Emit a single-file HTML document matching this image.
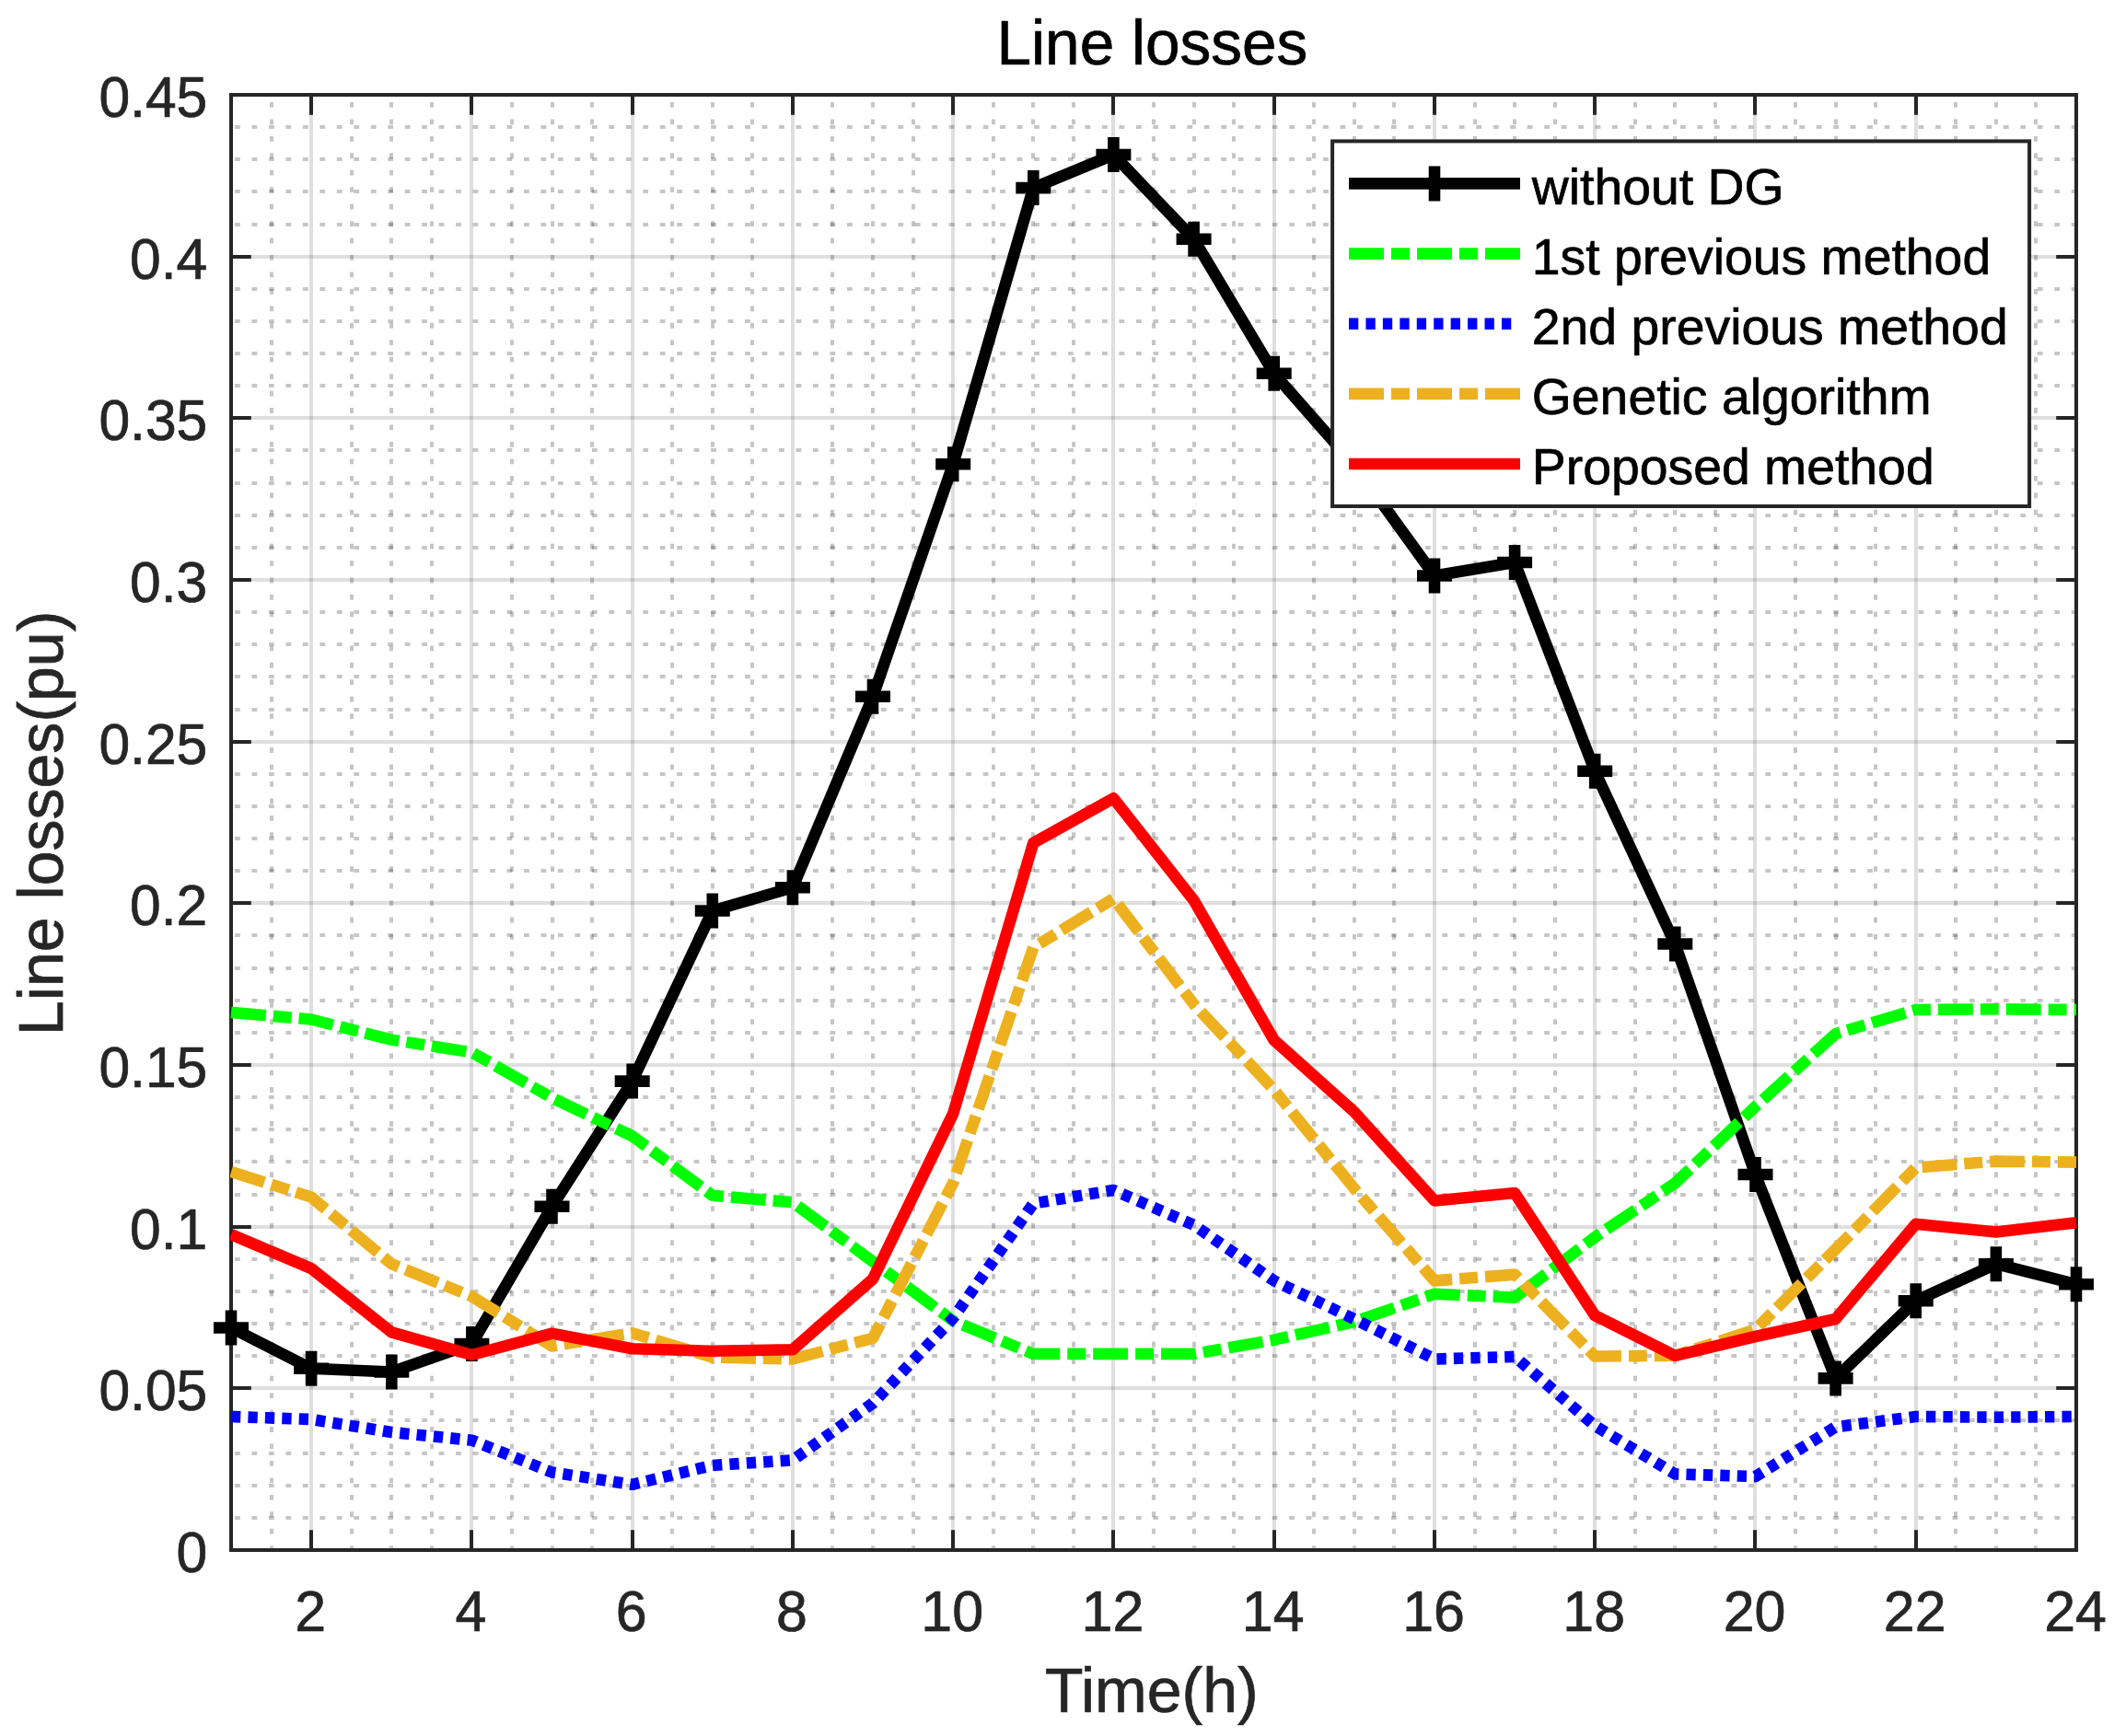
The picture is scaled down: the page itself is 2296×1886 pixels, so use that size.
<!DOCTYPE html>
<html lang="en"><head><meta charset="utf-8"><title>Line losses</title>
<style>html,body{margin:0;padding:0;background:#fff}svg{display:block}text{font-family:"Liberation Sans",Arial,Helvetica,sans-serif}</style></head><body>
<svg width="2296" height="1886" viewBox="0 0 2296 1886">
<rect width="2296" height="1886" fill="#fff"/>
<g stroke="#1a1a1a" stroke-opacity="0.25" stroke-width="4" fill="none" stroke-dasharray="5.80 12.67">
<line x1="295.0" x2="295.0" y1="103.0" y2="1684.0" stroke-dasharray="5.80 12.65" stroke-dashoffset="10.45"/>
<line x1="382.0" x2="382.0" y1="103.0" y2="1684.0" stroke-dasharray="5.80 12.65" stroke-dashoffset="10.45"/>
<line x1="425.0" x2="425.0" y1="103.0" y2="1684.0" stroke-dasharray="5.80 12.65" stroke-dashoffset="10.45"/>
<line x1="469.0" x2="469.0" y1="103.0" y2="1684.0" stroke-dasharray="5.80 12.65" stroke-dashoffset="10.45"/>
<line x1="556.0" x2="556.0" y1="103.0" y2="1684.0" stroke-dasharray="5.80 12.65" stroke-dashoffset="10.45"/>
<line x1="600.0" x2="600.0" y1="103.0" y2="1684.0" stroke-dasharray="5.80 12.65" stroke-dashoffset="10.45"/>
<line x1="643.0" x2="643.0" y1="103.0" y2="1684.0" stroke-dasharray="5.80 12.65" stroke-dashoffset="10.45"/>
<line x1="730.0" x2="730.0" y1="103.0" y2="1684.0" stroke-dasharray="5.80 12.65" stroke-dashoffset="10.45"/>
<line x1="774.0" x2="774.0" y1="103.0" y2="1684.0" stroke-dasharray="5.80 12.65" stroke-dashoffset="10.45"/>
<line x1="817.0" x2="817.0" y1="103.0" y2="1684.0" stroke-dasharray="5.80 12.65" stroke-dashoffset="10.45"/>
<line x1="904.0" x2="904.0" y1="103.0" y2="1684.0" stroke-dasharray="5.80 12.65" stroke-dashoffset="10.45"/>
<line x1="948.0" x2="948.0" y1="103.0" y2="1684.0" stroke-dasharray="5.80 12.65" stroke-dashoffset="10.45"/>
<line x1="992.0" x2="992.0" y1="103.0" y2="1684.0" stroke-dasharray="5.80 12.65" stroke-dashoffset="10.45"/>
<line x1="1079.0" x2="1079.0" y1="103.0" y2="1684.0" stroke-dasharray="5.80 12.65" stroke-dashoffset="10.45"/>
<line x1="1122.0" x2="1122.0" y1="103.0" y2="1684.0" stroke-dasharray="5.80 12.65" stroke-dashoffset="10.45"/>
<line x1="1166.0" x2="1166.0" y1="103.0" y2="1684.0" stroke-dasharray="5.80 12.65" stroke-dashoffset="10.45"/>
<line x1="1253.0" x2="1253.0" y1="103.0" y2="1684.0" stroke-dasharray="5.80 12.65" stroke-dashoffset="10.45"/>
<line x1="1297.0" x2="1297.0" y1="103.0" y2="1684.0" stroke-dasharray="5.80 12.65" stroke-dashoffset="10.45"/>
<line x1="1340.0" x2="1340.0" y1="103.0" y2="1684.0" stroke-dasharray="5.80 12.65" stroke-dashoffset="10.45"/>
<line x1="1427.0" x2="1427.0" y1="103.0" y2="1684.0" stroke-dasharray="5.80 12.65" stroke-dashoffset="10.45"/>
<line x1="1471.0" x2="1471.0" y1="103.0" y2="1684.0" stroke-dasharray="5.80 12.65" stroke-dashoffset="10.45"/>
<line x1="1514.0" x2="1514.0" y1="103.0" y2="1684.0" stroke-dasharray="5.80 12.65" stroke-dashoffset="10.45"/>
<line x1="1602.0" x2="1602.0" y1="103.0" y2="1684.0" stroke-dasharray="5.80 12.65" stroke-dashoffset="10.45"/>
<line x1="1645.0" x2="1645.0" y1="103.0" y2="1684.0" stroke-dasharray="5.80 12.65" stroke-dashoffset="10.45"/>
<line x1="1689.0" x2="1689.0" y1="103.0" y2="1684.0" stroke-dasharray="5.80 12.65" stroke-dashoffset="10.45"/>
<line x1="1776.0" x2="1776.0" y1="103.0" y2="1684.0" stroke-dasharray="5.80 12.65" stroke-dashoffset="10.45"/>
<line x1="1819.0" x2="1819.0" y1="103.0" y2="1684.0" stroke-dasharray="5.80 12.65" stroke-dashoffset="10.45"/>
<line x1="1863.0" x2="1863.0" y1="103.0" y2="1684.0" stroke-dasharray="5.80 12.65" stroke-dashoffset="10.45"/>
<line x1="1950.0" x2="1950.0" y1="103.0" y2="1684.0" stroke-dasharray="5.80 12.65" stroke-dashoffset="10.45"/>
<line x1="1994.0" x2="1994.0" y1="103.0" y2="1684.0" stroke-dasharray="5.80 12.65" stroke-dashoffset="10.45"/>
<line x1="2037.0" x2="2037.0" y1="103.0" y2="1684.0" stroke-dasharray="5.80 12.65" stroke-dashoffset="10.45"/>
<line x1="2124.0" x2="2124.0" y1="103.0" y2="1684.0" stroke-dasharray="5.80 12.65" stroke-dashoffset="10.45"/>
<line x1="2168.0" x2="2168.0" y1="103.0" y2="1684.0" stroke-dasharray="5.80 12.65" stroke-dashoffset="10.45"/>
<line x1="2211.0" x2="2211.0" y1="103.0" y2="1684.0" stroke-dasharray="5.80 12.65" stroke-dashoffset="10.45"/>
<line x1="251.0" x2="2255.0" y1="1649.0" y2="1649.0" stroke-dashoffset="14.47"/>
<line x1="251.0" x2="2255.0" y1="1614.0" y2="1614.0" stroke-dashoffset="14.47"/>
<line x1="251.0" x2="2255.0" y1="1579.0" y2="1579.0" stroke-dashoffset="14.47"/>
<line x1="251.0" x2="2255.0" y1="1543.0" y2="1543.0" stroke-dashoffset="14.47"/>
<line x1="251.0" x2="2255.0" y1="1473.0" y2="1473.0" stroke-dashoffset="14.47"/>
<line x1="251.0" x2="2255.0" y1="1438.0" y2="1438.0" stroke-dashoffset="14.47"/>
<line x1="251.0" x2="2255.0" y1="1403.0" y2="1403.0" stroke-dashoffset="14.47"/>
<line x1="251.0" x2="2255.0" y1="1368.0" y2="1368.0" stroke-dashoffset="14.47"/>
<line x1="251.0" x2="2255.0" y1="1298.0" y2="1298.0" stroke-dashoffset="14.47"/>
<line x1="251.0" x2="2255.0" y1="1262.0" y2="1262.0" stroke-dashoffset="14.47"/>
<line x1="251.0" x2="2255.0" y1="1227.0" y2="1227.0" stroke-dashoffset="14.47"/>
<line x1="251.0" x2="2255.0" y1="1192.0" y2="1192.0" stroke-dashoffset="14.47"/>
<line x1="251.0" x2="2255.0" y1="1122.0" y2="1122.0" stroke-dashoffset="14.47"/>
<line x1="251.0" x2="2255.0" y1="1087.0" y2="1087.0" stroke-dashoffset="14.47"/>
<line x1="251.0" x2="2255.0" y1="1052.0" y2="1052.0" stroke-dashoffset="14.47"/>
<line x1="251.0" x2="2255.0" y1="1016.0" y2="1016.0" stroke-dashoffset="14.47"/>
<line x1="251.0" x2="2255.0" y1="946.0" y2="946.0" stroke-dashoffset="14.47"/>
<line x1="251.0" x2="2255.0" y1="911.0" y2="911.0" stroke-dashoffset="14.47"/>
<line x1="251.0" x2="2255.0" y1="876.0" y2="876.0" stroke-dashoffset="14.47"/>
<line x1="251.0" x2="2255.0" y1="841.0" y2="841.0" stroke-dashoffset="14.47"/>
<line x1="251.0" x2="2255.0" y1="771.0" y2="771.0" stroke-dashoffset="14.47"/>
<line x1="251.0" x2="2255.0" y1="735.0" y2="735.0" stroke-dashoffset="14.47"/>
<line x1="251.0" x2="2255.0" y1="700.0" y2="700.0" stroke-dashoffset="14.47"/>
<line x1="251.0" x2="2255.0" y1="665.0" y2="665.0" stroke-dashoffset="14.47"/>
<line x1="251.0" x2="2255.0" y1="595.0" y2="595.0" stroke-dashoffset="14.47"/>
<line x1="251.0" x2="2255.0" y1="560.0" y2="560.0" stroke-dashoffset="14.47"/>
<line x1="251.0" x2="2255.0" y1="525.0" y2="525.0" stroke-dashoffset="14.47"/>
<line x1="251.0" x2="2255.0" y1="489.0" y2="489.0" stroke-dashoffset="14.47"/>
<line x1="251.0" x2="2255.0" y1="419.0" y2="419.0" stroke-dashoffset="14.47"/>
<line x1="251.0" x2="2255.0" y1="384.0" y2="384.0" stroke-dashoffset="14.47"/>
<line x1="251.0" x2="2255.0" y1="349.0" y2="349.0" stroke-dashoffset="14.47"/>
<line x1="251.0" x2="2255.0" y1="314.0" y2="314.0" stroke-dashoffset="14.47"/>
<line x1="251.0" x2="2255.0" y1="244.0" y2="244.0" stroke-dashoffset="14.47"/>
<line x1="251.0" x2="2255.0" y1="208.0" y2="208.0" stroke-dashoffset="14.47"/>
<line x1="251.0" x2="2255.0" y1="173.0" y2="173.0" stroke-dashoffset="14.47"/>
<line x1="251.0" x2="2255.0" y1="138.0" y2="138.0" stroke-dashoffset="14.47"/>
</g>
<g stroke="#262626" stroke-opacity="0.15" stroke-width="4" fill="none">
<line x1="338.0" x2="338.0" y1="103.0" y2="1684.0"/>
<line x1="512.0" x2="512.0" y1="103.0" y2="1684.0"/>
<line x1="687.0" x2="687.0" y1="103.0" y2="1684.0"/>
<line x1="861.0" x2="861.0" y1="103.0" y2="1684.0"/>
<line x1="1035.0" x2="1035.0" y1="103.0" y2="1684.0"/>
<line x1="1209.0" x2="1209.0" y1="103.0" y2="1684.0"/>
<line x1="1384.0" x2="1384.0" y1="103.0" y2="1684.0"/>
<line x1="1558.0" x2="1558.0" y1="103.0" y2="1684.0"/>
<line x1="1732.0" x2="1732.0" y1="103.0" y2="1684.0"/>
<line x1="1906.0" x2="1906.0" y1="103.0" y2="1684.0"/>
<line x1="2081.0" x2="2081.0" y1="103.0" y2="1684.0"/>
<line x1="251.0" x2="2255.0" y1="1508.0" y2="1508.0"/>
<line x1="251.0" x2="2255.0" y1="1333.0" y2="1333.0"/>
<line x1="251.0" x2="2255.0" y1="1157.0" y2="1157.0"/>
<line x1="251.0" x2="2255.0" y1="981.0" y2="981.0"/>
<line x1="251.0" x2="2255.0" y1="806.0" y2="806.0"/>
<line x1="251.0" x2="2255.0" y1="630.0" y2="630.0"/>
<line x1="251.0" x2="2255.0" y1="454.0" y2="454.0"/>
<line x1="251.0" x2="2255.0" y1="279.0" y2="279.0"/>
</g>
<g stroke="#262626" stroke-width="4" fill="none">
<rect x="251.0" y="103.0" width="2004.0" height="1581.0"/>
<line x1="338.0" x2="338.0" y1="1684.0" y2="1662.2"/>
<line x1="338.0" x2="338.0" y1="103.0" y2="124.8"/>
<line x1="512.0" x2="512.0" y1="1684.0" y2="1662.2"/>
<line x1="512.0" x2="512.0" y1="103.0" y2="124.8"/>
<line x1="687.0" x2="687.0" y1="1684.0" y2="1662.2"/>
<line x1="687.0" x2="687.0" y1="103.0" y2="124.8"/>
<line x1="861.0" x2="861.0" y1="1684.0" y2="1662.2"/>
<line x1="861.0" x2="861.0" y1="103.0" y2="124.8"/>
<line x1="1035.0" x2="1035.0" y1="1684.0" y2="1662.2"/>
<line x1="1035.0" x2="1035.0" y1="103.0" y2="124.8"/>
<line x1="1209.0" x2="1209.0" y1="1684.0" y2="1662.2"/>
<line x1="1209.0" x2="1209.0" y1="103.0" y2="124.8"/>
<line x1="1384.0" x2="1384.0" y1="1684.0" y2="1662.2"/>
<line x1="1384.0" x2="1384.0" y1="103.0" y2="124.8"/>
<line x1="1558.0" x2="1558.0" y1="1684.0" y2="1662.2"/>
<line x1="1558.0" x2="1558.0" y1="103.0" y2="124.8"/>
<line x1="1732.0" x2="1732.0" y1="1684.0" y2="1662.2"/>
<line x1="1732.0" x2="1732.0" y1="103.0" y2="124.8"/>
<line x1="1906.0" x2="1906.0" y1="1684.0" y2="1662.2"/>
<line x1="1906.0" x2="1906.0" y1="103.0" y2="124.8"/>
<line x1="2081.0" x2="2081.0" y1="1684.0" y2="1662.2"/>
<line x1="2081.0" x2="2081.0" y1="103.0" y2="124.8"/>
<line x1="251.0" x2="272.8" y1="1508.0" y2="1508.0"/>
<line x1="2255.0" x2="2233.2" y1="1508.0" y2="1508.0"/>
<line x1="251.0" x2="272.8" y1="1333.0" y2="1333.0"/>
<line x1="2255.0" x2="2233.2" y1="1333.0" y2="1333.0"/>
<line x1="251.0" x2="272.8" y1="1157.0" y2="1157.0"/>
<line x1="2255.0" x2="2233.2" y1="1157.0" y2="1157.0"/>
<line x1="251.0" x2="272.8" y1="981.0" y2="981.0"/>
<line x1="2255.0" x2="2233.2" y1="981.0" y2="981.0"/>
<line x1="251.0" x2="272.8" y1="806.0" y2="806.0"/>
<line x1="2255.0" x2="2233.2" y1="806.0" y2="806.0"/>
<line x1="251.0" x2="272.8" y1="630.0" y2="630.0"/>
<line x1="2255.0" x2="2233.2" y1="630.0" y2="630.0"/>
<line x1="251.0" x2="272.8" y1="454.0" y2="454.0"/>
<line x1="2255.0" x2="2233.2" y1="454.0" y2="454.0"/>
<line x1="251.0" x2="272.8" y1="279.0" y2="279.0"/>
<line x1="2255.0" x2="2233.2" y1="279.0" y2="279.0"/>
</g>
<defs><clipPath id="c"><rect x="250.0" y="103.0" width="2006.0" height="1581.0"/></clipPath></defs>
<g fill="none" stroke-width="12.6" stroke-linejoin="round" clip-path="url(#c)">
<polyline stroke="#000" points="251.0,1442.5 338.1,1486.8 425.3,1490.5 512.4,1460.0 599.5,1310.8 686.7,1174.6 773.8,989.5 860.9,964.2 948.0,756.8 1035.2,504.2 1122.3,204.1 1209.4,168.1 1296.6,259.7 1383.7,405.8 1470.8,505.0 1558.0,625.5 1645.1,611.0 1732.2,837.8 1819.3,1025.5 1906.5,1276.0 1993.6,1497.4 2080.7,1413.3 2167.9,1373.2 2255.0,1395.2"/>
</g>
<g stroke="#000" stroke-width="12.6" fill="none">
<path d="M232.0 1442.5H270.0M251.0 1423.5V1461.5"/>
<path d="M319.1 1486.8H357.1M338.1 1467.8V1505.8"/>
<path d="M406.3 1490.5H444.3M425.3 1471.5V1509.5"/>
<path d="M493.4 1460.0H531.4M512.4 1441.0V1479.0"/>
<path d="M580.5 1310.8H618.5M599.5 1291.8V1329.8"/>
<path d="M667.7 1174.6H705.7M686.7 1155.6V1193.6"/>
<path d="M754.8 989.5H792.8M773.8 970.5V1008.5"/>
<path d="M841.9 964.2H879.9M860.9 945.2V983.2"/>
<path d="M929.0 756.8H967.0M948.0 737.8V775.8"/>
<path d="M1016.2 504.2H1054.2M1035.2 485.2V523.2"/>
<path d="M1103.3 204.1H1141.3M1122.3 185.1V223.1"/>
<path d="M1190.4 168.1H1228.4M1209.4 149.1V187.1"/>
<path d="M1277.6 259.7H1315.6M1296.6 240.7V278.7"/>
<path d="M1364.7 405.8H1402.7M1383.7 386.8V424.8"/>
<path d="M1451.8 505.0H1489.8M1470.8 486.0V524.0"/>
<path d="M1539.0 625.5H1577.0M1558.0 606.5V644.5"/>
<path d="M1626.1 611.0H1664.1M1645.1 592.0V630.0"/>
<path d="M1713.2 837.8H1751.2M1732.2 818.8V856.8"/>
<path d="M1800.3 1025.5H1838.3M1819.3 1006.5V1044.5"/>
<path d="M1887.5 1276.0H1925.5M1906.5 1257.0V1295.0"/>
<path d="M1974.6 1497.4H2012.6M1993.6 1478.4V1516.4"/>
<path d="M2061.7 1413.3H2099.7M2080.7 1394.3V1432.3"/>
<path d="M2148.9 1373.2H2186.9M2167.9 1354.2V1392.2"/>
<path d="M2236.0 1395.2H2274.0M2255.0 1376.2V1414.2"/>
</g>
<g fill="none" stroke-width="12.6" stroke-linejoin="round" clip-path="url(#c)">
<polyline stroke="#00ff00" stroke-dasharray="37.93 7.98 19.96 7.98" points="251.0,1099.9 338.1,1107.5 425.3,1129.6 512.4,1143.3 599.5,1192.7 686.7,1234.3 773.8,1298.7 860.9,1306.2 948.0,1370.6 1035.2,1435.0 1122.3,1470.9 1209.4,1470.9 1296.6,1470.9 1383.7,1455.7 1470.8,1436.0 1558.0,1405.8 1645.1,1409.6 1732.2,1344.1 1819.3,1285.4 1906.5,1202.2 1993.6,1123.2 2080.7,1097.0 2167.9,1096.3 2255.0,1097.0"/>
<polyline stroke="#0000ff" stroke-dasharray="10.3 8.14" points="251.0,1539.0 338.1,1542.0 425.3,1556.0 512.4,1564.7 599.5,1599.5 686.7,1612.8 773.8,1592.0 860.9,1586.3 948.0,1524.5 1035.2,1432.0 1122.3,1307.4 1209.4,1293.0 1296.6,1330.8 1383.7,1391.4 1470.8,1433.0 1558.0,1476.5 1645.1,1473.9 1732.2,1549.0 1819.3,1601.4 1906.5,1604.1 1993.6,1550.3 2080.7,1539.0 2167.9,1539.7 2255.0,1539.0"/>
<polyline stroke="#edb120" stroke-dasharray="37.86 7.98 19.93 7.98" points="251.0,1273.0 338.1,1300.6 425.3,1373.2 512.4,1408.4 599.5,1462.5 686.7,1448.2 773.8,1474.6 860.9,1476.5 948.0,1453.8 1035.2,1285.0 1122.3,1029.3 1209.4,976.3 1296.6,1091.0 1383.7,1184.0 1470.8,1291.1 1558.0,1391.4 1645.1,1384.6 1732.2,1473.5 1819.3,1472.8 1906.5,1444.4 1993.6,1357.3 2080.7,1268.5 2167.9,1261.6 2255.0,1262.6"/>
<polyline stroke="#ff0000" points="251.0,1341.0 338.1,1378.1 425.3,1447.4 512.4,1472.0 599.5,1448.6 686.7,1465.2 773.8,1467.8 860.9,1466.3 948.0,1389.5 1035.2,1209.7 1122.3,915.7 1209.4,867.3 1296.6,978.2 1383.7,1130.0 1470.8,1207.9 1558.0,1304.4 1645.1,1296.0 1732.2,1429.2 1819.3,1472.8 1906.5,1452.0 1993.6,1433.0 2080.7,1329.7 2167.9,1338.4 2255.0,1328.2"/>
</g>
<text transform="translate(225.3,1708.0) scale(0.985,1.020)" text-anchor="end" font-size="61.50px" fill="#262626" stroke="#262626" stroke-width="0.7">0</text>
<text transform="translate(225.3,1532.3) scale(0.985,1.020)" text-anchor="end" font-size="61.50px" fill="#262626" stroke="#262626" stroke-width="0.7">0.05</text>
<text transform="translate(225.3,1356.7) scale(0.985,1.020)" text-anchor="end" font-size="61.50px" fill="#262626" stroke="#262626" stroke-width="0.7">0.1</text>
<text transform="translate(225.3,1181.0) scale(0.985,1.020)" text-anchor="end" font-size="61.50px" fill="#262626" stroke="#262626" stroke-width="0.7">0.15</text>
<text transform="translate(225.3,1005.3) scale(0.985,1.020)" text-anchor="end" font-size="61.50px" fill="#262626" stroke="#262626" stroke-width="0.7">0.2</text>
<text transform="translate(225.3,829.7) scale(0.985,1.020)" text-anchor="end" font-size="61.50px" fill="#262626" stroke="#262626" stroke-width="0.7">0.25</text>
<text transform="translate(225.3,654.0) scale(0.985,1.020)" text-anchor="end" font-size="61.50px" fill="#262626" stroke="#262626" stroke-width="0.7">0.3</text>
<text transform="translate(225.3,478.3) scale(0.985,1.020)" text-anchor="end" font-size="61.50px" fill="#262626" stroke="#262626" stroke-width="0.7">0.35</text>
<text transform="translate(225.3,302.7) scale(0.985,1.020)" text-anchor="end" font-size="61.50px" fill="#262626" stroke="#262626" stroke-width="0.7">0.4</text>
<text transform="translate(225.3,127.0) scale(0.985,1.020)" text-anchor="end" font-size="61.50px" fill="#262626" stroke="#262626" stroke-width="0.7">0.45</text>
<text transform="translate(337.1,1771.9) scale(0.990,1.020)" text-anchor="middle" font-size="61.50px" fill="#262626" stroke="#262626" stroke-width="0.7">2</text>
<text transform="translate(511.4,1771.9) scale(0.990,1.020)" text-anchor="middle" font-size="61.50px" fill="#262626" stroke="#262626" stroke-width="0.7">4</text>
<text transform="translate(685.7,1771.9) scale(0.990,1.020)" text-anchor="middle" font-size="61.50px" fill="#262626" stroke="#262626" stroke-width="0.7">6</text>
<text transform="translate(859.9,1771.9) scale(0.990,1.020)" text-anchor="middle" font-size="61.50px" fill="#262626" stroke="#262626" stroke-width="0.7">8</text>
<text transform="translate(1034.2,1771.9) scale(0.990,1.020)" text-anchor="middle" font-size="61.50px" fill="#262626" stroke="#262626" stroke-width="0.7">10</text>
<text transform="translate(1208.4,1771.9) scale(0.990,1.020)" text-anchor="middle" font-size="61.50px" fill="#262626" stroke="#262626" stroke-width="0.7">12</text>
<text transform="translate(1382.7,1771.9) scale(0.990,1.020)" text-anchor="middle" font-size="61.50px" fill="#262626" stroke="#262626" stroke-width="0.7">14</text>
<text transform="translate(1557.0,1771.9) scale(0.990,1.020)" text-anchor="middle" font-size="61.50px" fill="#262626" stroke="#262626" stroke-width="0.7">16</text>
<text transform="translate(1731.2,1771.9) scale(0.990,1.020)" text-anchor="middle" font-size="61.50px" fill="#262626" stroke="#262626" stroke-width="0.7">18</text>
<text transform="translate(1905.5,1771.9) scale(0.990,1.020)" text-anchor="middle" font-size="61.50px" fill="#262626" stroke="#262626" stroke-width="0.7">20</text>
<text transform="translate(2079.7,1771.9) scale(0.990,1.020)" text-anchor="middle" font-size="61.50px" fill="#262626" stroke="#262626" stroke-width="0.7">22</text>
<text transform="translate(2254.0,1771.9) scale(0.990,1.020)" text-anchor="middle" font-size="61.50px" fill="#262626" stroke="#262626" stroke-width="0.7">24</text>
<text transform="translate(1251.4,69.8) scale(0.997,1.020)" text-anchor="middle" font-size="67.70px" fill="#000" stroke="#000" stroke-width="0.7">Line losses</text>
<text transform="translate(1250.8,1860.0) scale(1.005,1.020)" text-anchor="middle" font-size="67.70px" fill="#262626" stroke="#262626" stroke-width="0.7">Time(h)</text>
<text transform="translate(67.6,894.3) rotate(-90) scale(1.005,1.020)" text-anchor="middle" font-size="67.70px" fill="#262626" stroke="#262626" stroke-width="0.7">Line losses(pu)</text>
<rect x="1447.1" y="153.4" width="757.0" height="396.6" fill="#fff" stroke="#262626" stroke-width="4"/>
<g fill="none" stroke-width="12.6">
<path stroke="#000" d="M1465 199.4H1651M1558 180.4V218.4"/>
<path stroke="#00ff00" stroke-dasharray="38 8 20 8" d="M1465 275.6H1651"/>
<path stroke="#0000ff" stroke-dasharray="10.3 8.14" d="M1465 351.7H1642"/>
<path stroke="#edb120" stroke-dasharray="38 8 20 8" d="M1465 427.9H1651"/>
<path stroke="#ff0000" d="M1465 504.0H1651"/>
</g>
<g fill="#000" stroke="#000" stroke-width="0.7" font-size="55.35px">
<text x="1663.8" y="221.7">without DG</text>
<text x="1663.8" y="297.9">1st previous method</text>
<text x="1663.8" y="374.0">2nd previous method</text>
<text x="1663.8" y="450.2">Genetic algorithm</text>
<text x="1663.8" y="526.3">Proposed method</text>
</g>
</svg></body></html>
